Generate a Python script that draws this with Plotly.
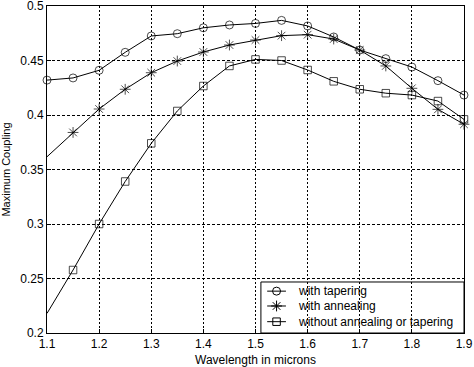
import plotly.graph_objects as go

wavelength = [1.1, 1.15, 1.2, 1.25, 1.3, 1.35, 1.4, 1.45, 1.5, 1.55, 1.6, 1.65, 1.7, 1.75, 1.8, 1.85, 1.9]
with_tapering = [0.432, 0.434, 0.441, 0.4575, 0.4725, 0.4746, 0.480, 0.4826, 0.484, 0.4868, 0.4817, 0.4716, 0.4596, 0.4517, 0.444, 0.4315, 0.4183]
with_annealing = [0.3617, 0.384, 0.4055, 0.4236, 0.4388, 0.4495, 0.4578, 0.4642, 0.4688, 0.4728, 0.4737, 0.4697, 0.4596, 0.445, 0.4245, 0.4052, 0.3915]
without_both = [0.218, 0.2578, 0.300, 0.339, 0.374, 0.4037, 0.4266, 0.445, 0.451, 0.450, 0.4413, 0.4309, 0.4236, 0.420, 0.4183, 0.4128, 0.396]

series_names = ["with tapering", "with annealing", "without annealing or tapering"]
x_ticks = [1.1, 1.2, 1.3, 1.4, 1.5, 1.6, 1.7, 1.8, 1.9]
y_ticks = [0.2, 0.25, 0.3, 0.35, 0.4, 0.45, 0.5]

FONT = "Liberation Sans, Arial, sans-serif"
symbols = ["circle-open", "asterisk-open", "square-open"]
legend_sizes = [8, 9, 7.5]
# first point of the annealing / untreated series shows no marker in the original
size_arrays = [
    [8] * len(wavelength),
    [0] + [9] * (len(wavelength) - 1),
    [0] + [7.5] * (len(wavelength) - 1),
]

fig = go.Figure()
for ys, name, sym, sz in zip([with_tapering, with_annealing, without_both], series_names, symbols, size_arrays):
    fig.add_trace(go.Scatter(
        x=wavelength, y=ys, name=name, mode="lines+markers", cliponaxis=False, showlegend=False,
        line=dict(color="black", width=1),
        marker=dict(symbol=sym, size=sz, color="black", line=dict(width=1, color="black"))))

# legend drawn inside the plot (bottom-right), compact like the original
lx0, lx1, ly0, ly1 = 0.513, 1.0, 0.0, 0.156
rows = [0.128, 0.0826, 0.0346]
seg0, seg1, segm, tx = 0.528, 0.573, 0.5505, 0.597
shapes = [dict(type="rect", xref="paper", yref="paper", x0=lx0, x1=lx1, y0=ly0, y1=ly1,
               fillcolor="white", line=dict(color="black", width=1), layer="between")]
annotations = []
for r, name, sym, ms in zip(rows, series_names, symbols, legend_sizes):
    shapes.append(dict(type="line", xref="paper", yref="paper", x0=seg0, x1=seg1, y0=r, y1=r,
                       line=dict(color="black", width=1), layer="between"))
    annotations.append(dict(xref="paper", yref="paper", x=tx, y=r, xanchor="left", yanchor="middle",
                            text=name, showarrow=False, font=dict(family=FONT, size=12, color="black")))
    fig.add_trace(go.Scatter(x=[segm], y=[r], xaxis="x2", yaxis="y2", mode="markers", showlegend=False,
                             hoverinfo="skip", cliponaxis=False,
                             marker=dict(symbol=sym, size=ms, color="black",
                                         line=dict(width=1, color="black"))))

axis_common = dict(showline=True, linecolor="black", linewidth=1, mirror=True, automargin=False,
                   ticks="inside", ticklen=4, tickcolor="black", showgrid=True, gridcolor="black",
                   gridwidth=1, zeroline=False, ticklabeloverflow="allow",
                   tickfont=dict(family=FONT, size=12, color="black"))

fig.update_layout(
    width=474, height=367,
    margin=dict(l=47, r=10, t=6, b=34),
    paper_bgcolor="white", plot_bgcolor="white",
    showlegend=False,
    font=dict(family=FONT, color="black"),
    shapes=shapes, annotations=annotations,
    xaxis2=dict(overlaying="x", range=[0, 1], visible=False, fixedrange=True),
    yaxis2=dict(overlaying="y", range=[0, 1], visible=False, fixedrange=True),
)
fig.layout.xaxis.update(range=[1.1, 1.9], tickvals=x_ticks, ticktext=[f"{v:.1f}" for v in x_ticks],
                        griddash="2px,2px",
                        title=dict(text="Wavelength in microns", font=dict(family=FONT, size=12)), **axis_common)
fig.layout.yaxis.update(range=[0.2, 0.5], tickvals=y_ticks, ticktext=[f"{v:g}" for v in y_ticks],
                        griddash="3px,2px",
                        title=dict(text="Maximum Coupling", font=dict(family=FONT, size=11)), **axis_common)

fig.write_html("out.html", config={"displayModeBar": False},
               post_script="document.body.style.margin='0px';document.body.style.overflow='hidden';")
